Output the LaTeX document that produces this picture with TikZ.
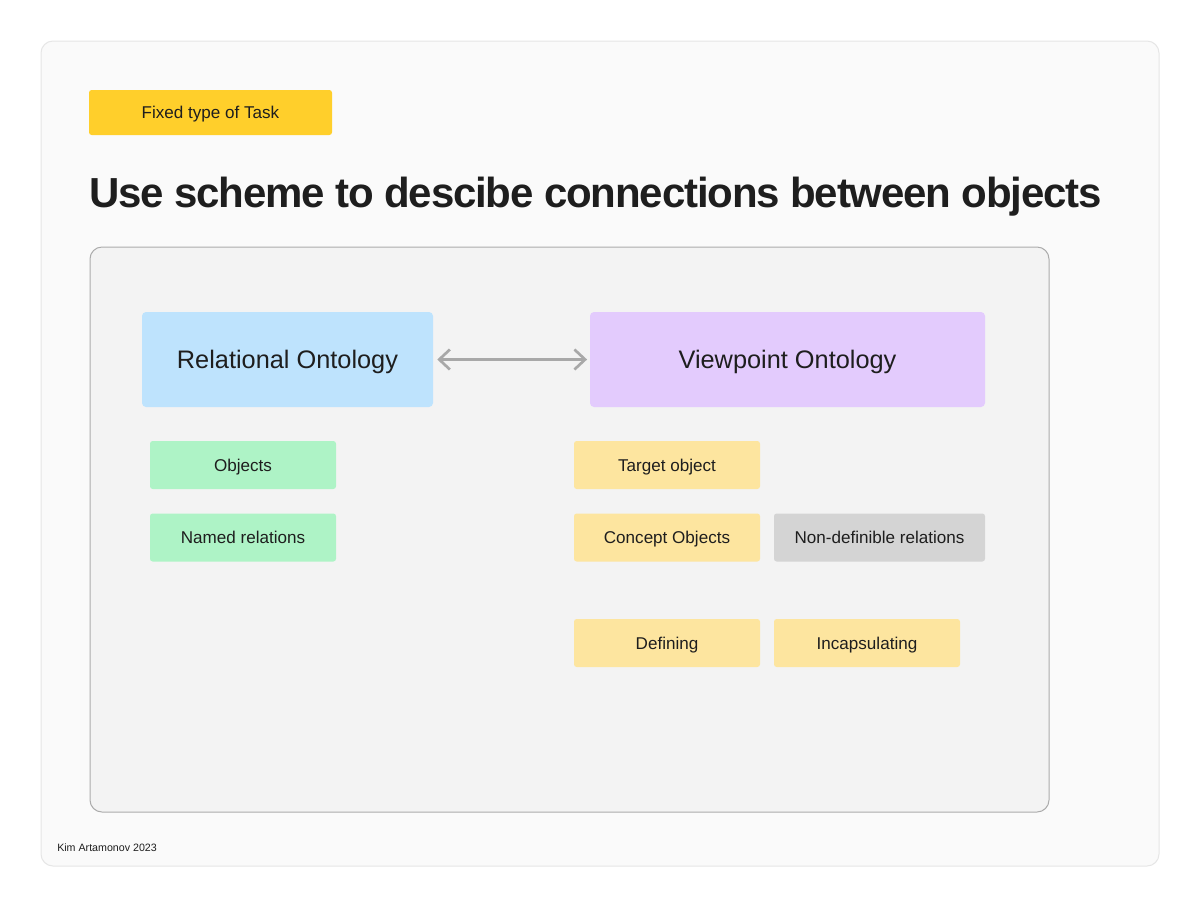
\documentclass[tikz,border=0pt]{standalone}
\usepackage{fontspec}
\setmainfont{Liberation Sans}
\usetikzlibrary{arrows.meta}
\definecolor{cardbg}{HTML}{FAFAFA}
\definecolor{cardline}{HTML}{E6E6E6}
\definecolor{panelbg}{HTML}{F3F3F3}
\definecolor{panelline}{HTML}{ABABAB}
\definecolor{tagyellow}{HTML}{FFCF2B}
\definecolor{ink}{HTML}{1E1E1E}
\definecolor{relblue}{HTML}{BEE3FD}
\definecolor{vppurple}{HTML}{E3CBFD}
\definecolor{stickgreen}{HTML}{AEF3C6}
\definecolor{stickyellow}{HTML}{FDE59F}
\definecolor{stickgray}{HTML}{D4D4D4}
\definecolor{arrowgray}{HTML}{A8A8A8}
\tikzset{
  bigbox/.style={rounded corners=3pt, inner sep=0pt, text=ink, font=\fontsize{19}{22}\selectfont, text height=13.6pt, text depth=0pt},
  sticky/.style={rounded corners=2pt, inner sep=0pt, text=ink, font=\fontsize{12.8}{15}\selectfont, text height=9.2pt, text depth=0pt, minimum width=139.5pt, minimum height=36pt},
}
\begin{document}
\begin{tikzpicture}[x=0.75pt,y=-0.75pt]
\useasboundingbox (0,0) rectangle (1200,908);
\fill[white] (0,0) rectangle (1200,908);
% card
\draw[cardline, fill=cardbg, line width=0.75pt, rounded corners=9pt] (41,41) rectangle (1159,866);
% tag
\node[fill=tagyellow, rounded corners=2pt, minimum width=182.25pt, minimum height=33.75pt, inner sep=0pt, text=ink, font=\fontsize{12.8}{15}\selectfont, text height=9.2pt, text depth=0pt] (tag) at (210.5,112.5) {Fixed type of Task};
% title
\node[anchor=base west, inner sep=0pt, text=ink, font=\fontsize{31.5}{36}\selectfont\bfseries] (title) at (89,207) {\addfontfeature{LetterSpace=-2.8}Use scheme to descibe connections between objects};
% panel
\draw[panelline, fill=panelbg, line width=0.75pt, rounded corners=9pt] (90,247) rectangle (1049,812);
% big boxes
\node[bigbox, fill=relblue, minimum width=218.25pt, minimum height=71.25pt] (rel) at (287.5,359.5) {Relational Ontology};
\node[bigbox, fill=vppurple, minimum width=296.25pt, minimum height=71.25pt] (vp) at (787.5,359.5) {Viewpoint Ontology};
\draw[arrowgray, line width=2pt, {Straight Barb[length=8pt,width=15pt,line width=2pt]}-{Straight Barb[length=8pt,width=15pt,line width=2pt]}, shorten <=3pt, shorten >=2pt] (rel.east) -- (vp.west);
% stickies
\node[sticky, fill=stickgreen] (obj) at (243,465) {Objects};
\node[sticky, fill=stickgreen] (named) at (243,537.5) {Named relations};
\node[sticky, fill=stickyellow] (target) at (667,465) {Target object};
\node[sticky, fill=stickyellow] (concept) at (667,537.5) {Concept Objects};
\node[sticky, fill=stickgray, minimum width=158.25pt] (nondef) at (879.5,537.5) {Non-definible relations};
\node[sticky, fill=stickyellow] (defining) at (667,643) {Defining};
\node[sticky, fill=stickyellow] (incaps) at (867,643) {Incapsulating};
% footer
\node[anchor=base west, inner sep=0pt, text=ink, font=\fontsize{8}{9.5}\selectfont] (footer) at (57,851) {Kim Artamonov 2023};
\end{tikzpicture}
\end{document}
